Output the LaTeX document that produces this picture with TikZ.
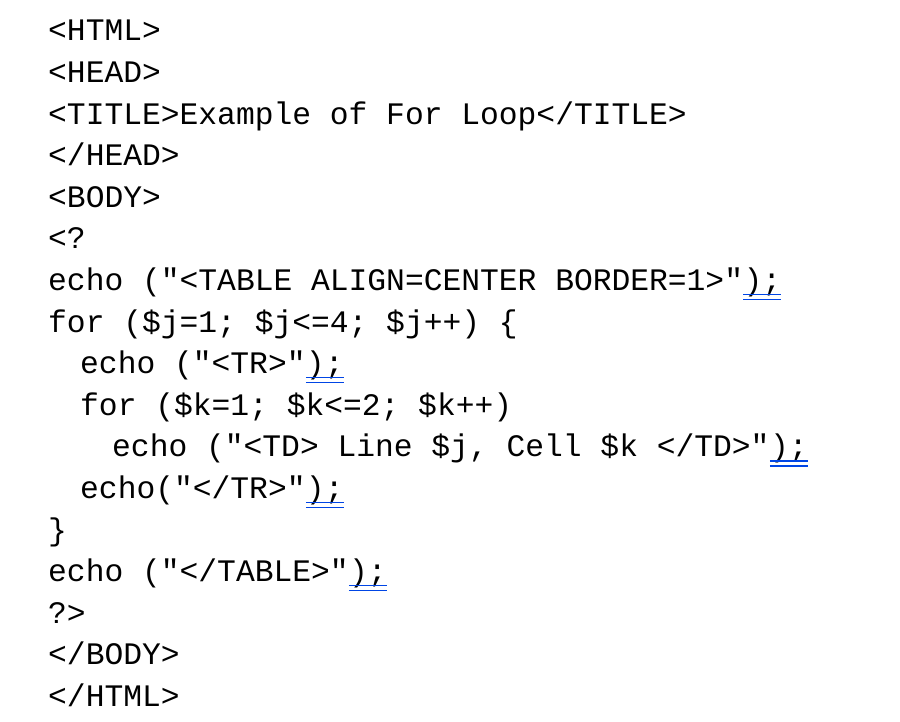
\documentclass[tikz,border=0pt]{standalone}
\usepackage{fontspec}
\setmonofont{Liberation Mono}
\begin{document}
\begin{tikzpicture}[x=1pt,y=1pt,
  code/.style={anchor=base west,inner sep=0pt,font=\ttfamily\fontsize{31.3}{36}\selectfont},
  ul/.style={draw=blue!70!cyan!90!black,line width=1.1pt}]
\useasboundingbox (0,0) rectangle (900,722);
\newcommand{\Y}[1]{722-41-41.6*#1}
\node[code] (l0) at (48,{\Y{0}}) {<HTML>};
\node[code] (l1) at (48,{\Y{1}}) {<HEAD>};
\node[code] (l2) at (48,{\Y{2}}) {<TITLE>Example of For Loop</TITLE>};
\node[code] (l3) at (48,{\Y{3}}) {</HEAD>};
\node[code] (l4) at (48,{\Y{4}}) {<BODY>};
\node[code] (l5) at (48,{\Y{5}}) {<?};
\node[code] (l6) at (48,{\Y{6}}) {echo ("<TABLE ALIGN=CENTER BORDER=1>"};
\node[code] (u6) at (l6.base east) {);};
\node[code] (l7) at (48,{\Y{7}}) {for (\$j=1; \$j<=4; \$j++) \{};
\node[code] (l8) at (80,{\Y{8}}) {echo ("<TR>"};
\node[code] (u8) at (l8.base east) {);};
\node[code] (l9) at (80,{\Y{9}}) {for (\$k=1; \$k<=2; \$k++)};
\node[code] (l10) at (112,{\Y{10}}) {echo ("<TD> Line \$j, Cell \$k </TD>"};
\node[code] (u10) at (l10.base east) {);};
\node[code] (l11) at (80,{\Y{11}}) {echo("</TR>"};
\node[code] (u11) at (l11.base east) {);};
\node[code] (l12) at (48,{\Y{12}}) {\}};
\node[code] (l13) at (48,{\Y{13}}) {echo ("</TABLE>"};
\node[code] (u13) at (l13.base east) {);};
\node[code] (l14) at (48,{\Y{14}}) {?>};
\node[code] (l15) at (48,{\Y{15}}) {</BODY>};
\node[code] (l16) at (48,{\Y{16}}) {</HTML>};
\foreach \u in {u6,u8,u10,u11,u13}{
  \draw[ul] ([yshift=-4pt]\u.base west) -- ([yshift=-4pt]\u.base east);
  \draw[ul] ([yshift=-9pt]\u.base west) -- ([yshift=-9pt]\u.base east);
}
\end{tikzpicture}
\end{document}
